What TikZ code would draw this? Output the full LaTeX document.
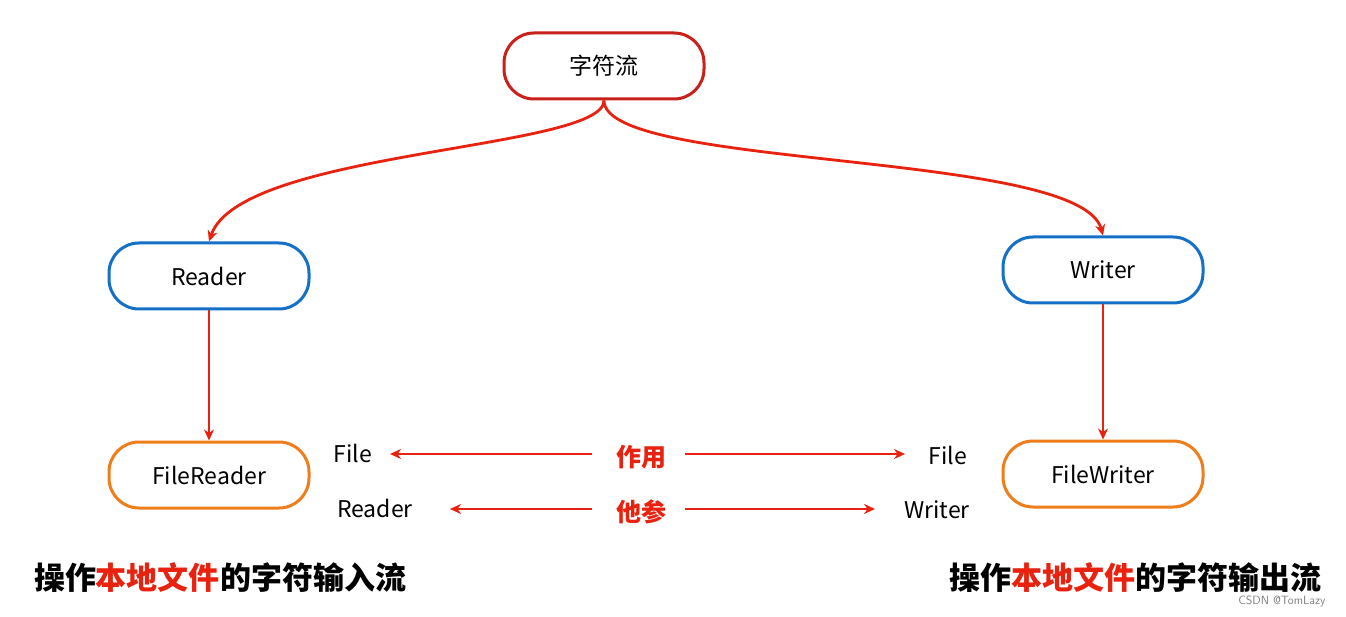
\documentclass[tikz,border=0pt]{standalone}
\usepackage{fontspec}
\setmainfont{Open Sans}
\newfontfamily\cjk{Noto Sans CJK SC}
\usetikzlibrary{arrows.meta}
\definecolor{rline}{HTML}{E8220F}
\definecolor{rbox}{HTML}{C8201A}
\definecolor{bbox}{HTML}{1570C8}
\definecolor{obox}{HTML}{EE7D1A}
\tikzset{
 box/.style={rounded corners=30pt,line width=3pt,minimum width=200pt,minimum height=66pt,font=\fontsize{23}{23}\selectfont\cjk},
 arr/.style={rline,line width=2.8pt,-{Stealth[length=11pt,width=10pt]}},
 lab/.style={font=\fontsize{23}{23}\selectfont\cjk},
 mid/.style={font=\fontsize{25}{25}\selectfont\cjk\bfseries,text=rline},
 big/.style={font=\fontsize{31}{31}\selectfont\cjk\bfseries}
}
\begin{document}
\begin{tikzpicture}[x=1pt,y=-1pt]
\useasboundingbox[fill=white] (0,0) rectangle (1346,617);
\node[box,draw=rbox] (top) at (604,66) {字符流};
\node[box,draw=bbox] (rd) at (209,276) {Reader};
\node[box,draw=bbox] (wr) at (1103,270) {Writer};
\node[box,draw=obox] (frd) at (209,475) {FileReader};
\node[box,draw=obox] (fwr) at (1103,474) {FileWriter};
\draw[arr] (top.south) .. controls (604,150) and (240,150) .. (rd.north);
\draw[arr] (top.south) .. controls (604,170) and (1080,150) .. (wr.north);
\draw[arr] (rd) -- (frd);
\draw[arr] (wr) -- (fwr);
\node[lab] (f1) at (353,453) {File};
\node[lab] (r1) at (375,508) {Reader};
\node[lab] (f2) at (948,455) {File};
\node[lab] (w2) at (937,510) {Writer};
\node[mid] (zy) at (641,457) {作用};
\node[mid] (tc) at (641,512) {他参};
\coordinate (a1) at (592,454); \coordinate (a2) at (390,454);
\coordinate (a3) at (685,454); \coordinate (a4) at (905,454);
\coordinate (b1) at (592,509); \coordinate (b2) at (450,509);
\coordinate (b3) at (685,509); \coordinate (b4) at (875,509);
\draw[arr] (a1) -- (a2); \draw[arr] (a3) -- (a4);
\draw[arr] (b1) -- (b2); \draw[arr] (b3) -- (b4);
\node[big] (lt) at (220,578) {操作\textcolor{rline}{本地文件}的字符输入流};
\node[big] (rt) at (1135,578) {操作\textcolor{rline}{本地文件}的字符输出流};
\node[font=\fontsize{12}{12}\selectfont\sffamily,text=gray] (wm) at (1282,601) {CSDN @TomLazy};
\end{tikzpicture}
\end{document}
